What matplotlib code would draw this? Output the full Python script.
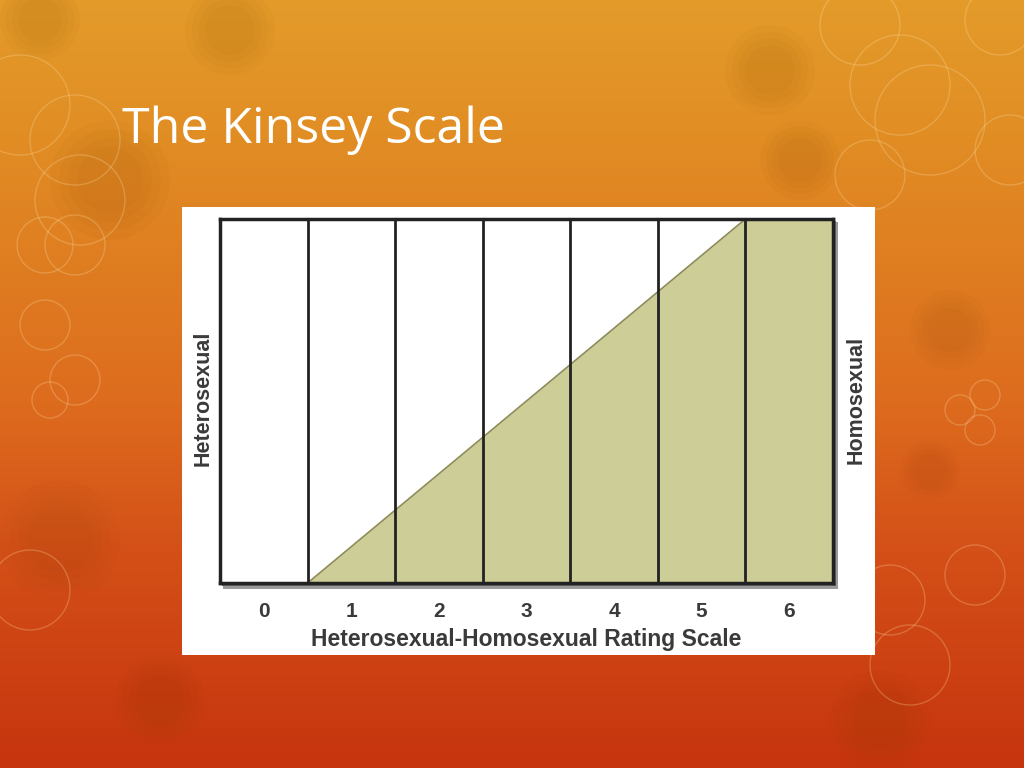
import numpy as np
import matplotlib.pyplot as plt
from matplotlib.patches import Rectangle, Circle

# Kinsey scale data
ratings = [0, 1, 2, 3, 4, 5, 6]
rating_labels = ["0", "1", "2", "3", "4", "5", "6"]
# homosexual share along the scale (0 = heterosexual, 1 = homosexual)
share_x = [-0.5, 0.5, 5.5, 6.5]
share_y = [0, 0, 1, 1]

title = "The Kinsey Scale"
xlabel = "Heterosexual-Homosexual Rating Scale"
left_label = "Heterosexual"
right_label = "Homosexual"

W, H = 1024, 768
fig = plt.figure(figsize=(W / 100, H / 100), dpi=100)

# slide background: orange to red gradient with some bokeh
bg = fig.add_axes([0, 0, 1, 1])
stops_y = [0, 130, 400, 550, 768]
stops_c = np.array([[228, 155, 42], [225, 142, 36], [221, 108, 30], [212, 80, 24], [198, 52, 14]]) / 255
yy = np.arange(H)
grad = np.stack([np.interp(yy, stops_y, stops_c[:, i]) for i in range(3)], axis=1)
img = np.repeat(grad[:, None, :], W, axis=1)
bg.imshow(img, extent=[0, W, H, 0], aspect="auto")
bg.set_xlim(0, W)
bg.set_ylim(H, 0)
bg.axis("off")

blobs = [(110, 180, 60), (230, 30, 45), (770, 70, 45), (800, 160, 40), (930, 470, 30),
         (60, 540, 60), (880, 720, 50), (160, 700, 45), (950, 330, 40), (40, 20, 40)]
for x, y, r in blobs:
    for k in range(4):
        bg.add_patch(Circle((x, y), r * (1 - 0.15 * k), color="#7a3a00", alpha=0.03, lw=0))
rings = [(20, 105, 50), (75, 140, 45), (80, 200, 45), (45, 245, 28), (75, 245, 30),
         (45, 325, 25), (75, 380, 25), (50, 400, 18), (900, 85, 50), (930, 120, 55),
         (870, 175, 35), (1010, 150, 35), (1000, 20, 35), (860, 25, 40), (960, 410, 15),
         (985, 395, 15), (980, 430, 15), (890, 600, 35), (975, 575, 30), (30, 590, 40),
         (910, 665, 40)]
for x, y, r in rings:
    bg.add_patch(Circle((x, y), r, fill=False, ec="#ffe6b0", alpha=0.25, lw=1))

# white panel + shadow of the chart box
bg.add_patch(Rectangle((182, 207), 693, 448, color="white", lw=0))
bg.add_patch(Rectangle((223, 222), 615, 367, color="#9a9a9a", lw=0))
bg.add_patch(Rectangle((222, 221), 614, 365, color="#666666", lw=0))

fig.text(122 / W, 1 - 130 / H, title, color="white", fontsize=36,
         family="Open Sans", ha="left", va="center")

# the chart itself
ax = fig.add_axes([220 / W, 1 - 583 / H, 613 / W, 364 / H])
ax.set_facecolor("white")
ax.fill_between(share_x, share_y, 0, color="#cdcd97", lw=0)
ax.plot(share_x[1:3], share_y[1:3], color="#8c8a55", lw=1.2)
for r in ratings[:-1]:
    ax.axvline(r + 0.5, color="#222222", lw=2)
ax.set_xlim(-0.5, 6.5)
ax.set_ylim(0, 1)
for s in ax.spines.values():
    s.set_linewidth(2.5)
    s.set_color("#222222")
ax.set_yticks([])
ax.set_xticks(ratings)
ax.set_xticklabels(rating_labels, fontsize=15, fontweight="bold", color="#3a3a3a",
                   family="Liberation Sans")
ax.tick_params(axis="x", length=0, pad=14)
ax.set_xlabel(xlabel, fontsize=16.5, fontweight="bold", color="#3a3a3a",
              family="Liberation Sans", labelpad=5)

fig.text(203 / W, 1 - 398 / H, left_label, rotation=90, fontsize=15.5, fontweight="bold",
         color="#3a3a3a", family="Liberation Sans", ha="center", va="center")
fig.text(856 / W, 1 - 400 / H, right_label, rotation=90, fontsize=15.5, fontweight="bold",
         color="#3a3a3a", family="Liberation Sans", ha="center", va="center")

fig.savefig("out.png", dpi=100)
